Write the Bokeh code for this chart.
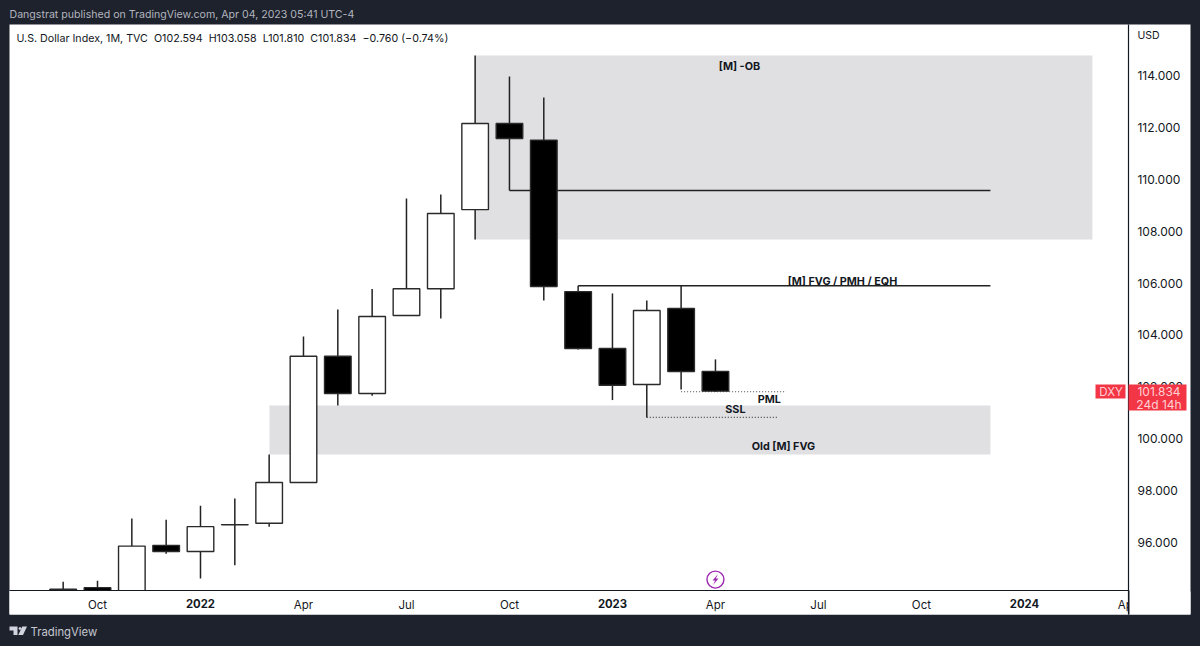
from bokeh.embed import file_html
from bokeh.resources import INLINE
from bokeh.models import (Range1d, FixedTicker, NumeralTickFormatter, Label, BoxAnnotation,
                          PolyAnnotation, ColumnDataSource)
from bokeh.plotting import figure

# month index: 0 = Oct 2021
months = list(range(-1, 19))
opens  = [93.40, 94.26, 94.00, 95.89, 95.65, 96.68, 96.74, 98.31, 103.18, 101.74, 104.75, 105.78,
          108.83, 112.15, 111.51, 105.67, 103.48, 102.09, 105.02, 102.594]
highs  = [94.49, 94.53, 96.92, 96.88, 97.42, 97.70, 99.39, 103.94, 104.98, 105.77, 109.26, 109.41,
          114.77, 113.96, 113.15, 105.90, 105.60, 105.33, 105.90, 103.058]
lows   = [93.40, 93.40, 93.90, 95.57, 94.61, 95.12, 96.61, 98.31, 101.28, 101.66, 104.75, 104.63,
          107.68, 109.57, 105.33, 103.44, 101.49, 100.82, 101.90, 101.810]
closes = [94.20, 94.00, 95.86, 95.65, 96.61, 96.69, 98.31, 103.18, 101.74, 104.71, 105.78, 108.68,
          112.15, 111.57, 105.87, 103.48, 102.06, 104.94, 102.59, 101.834]

zone_left   = [11.01, 5.01]
zone_right  = [28.98, 26.01]
zone_top    = [114.77, 101.28]
zone_bottom = [107.68, 99.39]

solid_x0 = [12.0, 14.0]
solid_x1 = [26.01, 26.01]
solid_y  = [109.57, 105.90]
dotted_x0 = [17.0, 16.0]
dotted_x1 = [20.0, 19.81]
dotted_y  = [101.81, 100.82]

note_text = ["[M] -OB", "[M] FVG / PMH / EQH", "PML", "SSL", "Old [M] FVG"]
note_x = [18.70, 21.70, 19.57, 18.58, 19.98]
note_y = [114.35, 106.06, 101.51, 101.12, 99.70]

price_ticks = [96, 98, 100, 102, 104, 106, 108, 110, 112, 114]
month_ticks = [0, 6, 9, 12, 18, 21, 24, 30]
month_names = ["Oct", "Apr", "Jul", "Oct", "Apr", "Jul", "Oct", "Apr"]
year_ticks = [3, 15, 27]
year_names = ["2022", "2023", "2024"]
event_x = [18]
event_y = [94.57]

DARK = "#1e222d"
RED = "#f23645"
INK = "#131722"
FONT = "Inter"

# the frame fills the whole page, so that the header, the footer and the axis strips can all be drawn
p = figure(width=1200, height=646, output_backend="svg", toolbar_location=None,
           x_range=Range1d(-2.8255, 32.129), y_range=Range1d(91.991, 116.891),
           x_axis_location="below", y_axis_location="right",
           min_border_left=0, min_border_top=0, min_border_right=0, min_border_bottom=0)
p.border_fill_color = DARK
p.background_fill_color = DARK
p.outline_line_color = None
p.grid.visible = False


def cbox(l, r, t, b, color, level):
    box = BoxAnnotation(left=l, right=r, top=t, bottom=b,
                        left_units="canvas", right_units="canvas", top_units="canvas", bottom_units="canvas",
                        fill_color=color, fill_alpha=1, line_color=None, level=level, editable=False)
    if level in ("guide", "underlay"):
        p.renderers.append(box)   # painted before the axes and the zones
    else:
        p.add_layout(box)


def ctext(x, y, text, color=INK, size=12, style="normal", align="left"):
    p.add_layout(Label(x=x, y=y, x_units="canvas", y_units="canvas", text=text, text_color=color,
                       text_font=FONT, text_font_size=f"{size}px", text_font_style=style,
                       text_align=align, text_baseline="middle"))


def cpoly(xs, ys, color):
    p.add_layout(PolyAnnotation(xs=list(xs), ys=list(ys), xs_units="canvas", ys_units="canvas",
                                fill_color=color, fill_alpha=1, line_color=None, editable=False))


# white chart card
cbox(9, 1190, 24, 614, "white", "underlay")

# zones
p.quad(left=zone_left, right=zone_right, top=zone_top, bottom=zone_bottom,
       fill_color="#e0e0e3", line_color=None, level="underlay")

# wicks and bodies
src = ColumnDataSource(dict(
    x=months, high=highs, low=lows,
    top=[max(a, b) for a, b in zip(opens, closes)],
    bottom=[min(a, b) for a, b in zip(opens, closes)],
    fill=["white" if c >= o else "black" for o, c in zip(opens, closes)],
))
p.segment(x0="x", x1="x", y0="low", y1="high", source=src, line_color="#222222", line_width=1.5)

# drawings
p.segment(x0=solid_x0, x1=solid_x1, y0=solid_y, y1=solid_y, line_color="#222222", line_width=1.5)
p.segment(x0=dotted_x0, x1=dotted_x1, y0=dotted_y, y1=dotted_y, line_color="#444444",
          line_width=1.2, line_dash="1 2")

p.vbar(x="x", width=0.775, top="top", bottom="bottom", source=src, fill_color="fill",
       line_color="#2a2a2a", line_width=1.4)

# event marker
p.scatter(x=event_x, y=event_y, size=17, marker="circle", fill_color="white",
          line_color="#9c27b0", line_width=1.4)
ex, ey = 715, 579
cpoly([ex + 2.5, ex - 3, ex - 0.3, ex - 2.5, ex + 3, ex + 0.3],
      [ey - 5.5, ey + 1, ey + 1, ey + 5.5, ey - 1, ey - 1], "#9c27b0")

for t, x, y in zip(note_text, note_x, note_y):
    p.add_layout(Label(x=x, y=y, text=t, text_color="#131722", text_font=FONT, text_font_size="10.8px",
                       text_font_style="bold", text_align="center", text_baseline="middle"))

# candles that run below the frame end at the time axis
cbox(9, 1128, 590, 614, "white", "guide")

# axes
ya = p.yaxis[0]
ya.fixed_location = 30.03
ya.bounds = (93.225, 115.966)
ya.ticker = FixedTicker(ticks=price_ticks)
ya.formatter = NumeralTickFormatter(format="0.000")
ya.major_label_text_font = FONT
ya.major_label_text_font_size = "12px"
ya.major_label_text_color = INK
ya.major_tick_line_color = None
ya.minor_tick_line_color = None
ya.major_label_standoff = 3
ya.axis_line_color = "#131722"
ya.axis_line_width = 1.2

xa = p.xaxis[0]
xa.fixed_location = 94.15
xa.bounds = (-2.563, 30.03)
xa.ticker = FixedTicker(ticks=month_ticks)
xa.major_label_overrides = dict(zip(month_ticks, month_names))
xa.major_label_text_font = FONT
xa.major_label_text_font_size = "11.5px"
xa.major_label_text_color = INK
xa.major_tick_line_color = None
xa.minor_tick_line_color = None
xa.major_label_standoff = 2
xa.axis_line_color = "#131722"
xa.axis_line_width = 1.2

# bold year labels under the frame
for t, x in zip(year_names, year_ticks):
    p.add_layout(Label(x=x, y=603, x_units="data", y_units="canvas", text=t, text_color=INK, text_font=FONT,
                       text_font_size="11.3px", text_font_style="bold", text_align="center", text_baseline="middle"))

# corner of the two axes hides the last month label
cbox(1128, 1190, 591, 614, "white", "annotation")
cbox(1127.5, 1129, 590, 614, "#131722", "annotation")

ctext(1137, 35, "USD", size=10.5)
ctext(9, 14, "Dangstrat published on TradingView.com, Apr 04, 2023 05:41 UTC-4", color="#b2b5be", size=10.6)
ctext(16, 38, "U.S. Dollar Index, 1M, TVC\u00a0\u00a0O102.594\u00a0\u00a0H103.058\u00a0\u00a0L101.810\u00a0\u00a0C101.834\u00a0\u00a0\u22120.760 (\u22120.74%)",
      size=10.7)

# last price badges
cbox(1095, 1125, 384, 398, RED, "annotation")
cbox(1128, 1186, 384, 410, RED, "annotation")
ctext(1110.5, 391.5, "DXY", color="#ffd0d4", size=11.5, align="center")
ctext(1158.5, 391, "101.834", color="#ffd0d4", size=12, align="center")
ctext(1158.5, 403.5, "24d 14h", color="#ffd0d4", size=12, align="center")

# footer brand
cpoly([9, 17, 17, 13, 13, 9], [626, 626, 634.5, 634.5, 630, 630], "#d1d4dc")
cpoly([17.8, 19.5, 21.2, 19.5], [628, 626.3, 628, 629.7], "#d1d4dc")
cpoly([21.8, 26.5, 22.5, 17.8], [626, 626, 634.5, 634.5], "#d1d4dc")
ctext(30, 631, "TradingView", color="#c4c7cf", size=11.3)

html = file_html(p, INLINE).replace("<body>", '<body style="background:#1e222d;margin:0">')
open("out.html", "w").write(html)
